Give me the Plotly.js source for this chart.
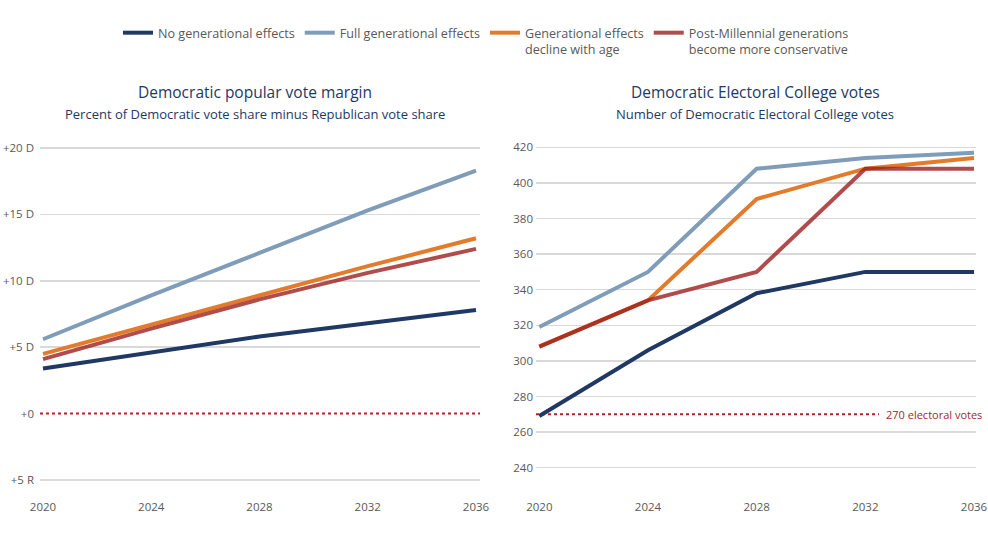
<!DOCTYPE html>
<html>
<head>
<meta charset="utf-8">
<script src="https://cdn.plot.ly/plotly-3.0.1.min.js"></script>
<style>html,body{margin:0;padding:0;background:#fff;}#chart{width:988px;height:538px;}</style>
</head>
<body>
<div id="chart"></div>
<script>
const years = [2020, 2024, 2028, 2032, 2036];
const seriesNames = ["No generational effects", "Full generational effects", "Generational effects<br>decline with age", "Post-Millennial generations<br>become more conservative"];
const popNo = [3.4, 4.6, 5.8, 6.8, 7.8];
const popFull = [5.6, 8.9, 12.1, 15.3, 18.3];
const popDecline = [4.5, 6.7, 8.9, 11.1, 13.2];
const popPostMil = [4.1, 6.4, 8.6, 10.6, 12.4];
const ecNo = [269, 306, 338, 350, 350];
const ecFull = [319, 350, 408, 414, 417];
const ecDecline = [308, 334, 391, 408, 414];
const ecPostMil = [308, 334, 350, 408, 408];
const popTickVals = [-5, 0, 5, 10, 15, 20];
const popTickText = ["+5 R", "+0", "+5 D", "+10 D", "+15 D", "+20 D"];
const ecTickVals = [240, 260, 280, 300, 320, 340, 360, 380, 400, 420];
const popThreshold = 0;
const ecThreshold = 270;
const ecThresholdLabel = "270 electoral votes";
const ecThresholdEndYear = 2032.5;

const colors = ["#1f3864", "#7f9cb8", "#e27b2b", "#9e1f1f"];
const opac = [1, 1, 1, 0.8];
const font = "'Open Sans', 'Noto Sans', sans-serif";
const xRangeL = [2019.889, 2036.148];
const xRangeR = [2019.878, 2036.074];

const traces = [];
// reference lines
traces.push({x: xRangeL, y: [popThreshold, popThreshold], xaxis: 'x', yaxis: 'y', mode: 'lines', line: {color: '#ffffff', width: 3}, showlegend: false, hoverinfo: 'skip'});
traces.push({x: xRangeL, y: [popThreshold, popThreshold], xaxis: 'x', yaxis: 'y', mode: 'lines', line: {color: '#b2242a', width: 2, dash: 'dot'}, showlegend: false, hoverinfo: 'skip'});
traces.push({x: [xRangeR[0], ecThresholdEndYear], y: [ecThreshold, ecThreshold], xaxis: 'x2', yaxis: 'y2', mode: 'lines', line: {color: '#b2242a', width: 2, dash: 'dot'}, showlegend: false, hoverinfo: 'skip'});

const popData = [popNo, popFull, popDecline, popPostMil];
const ecData = [ecNo, ecFull, ecDecline, ecPostMil];
for (let i = 0; i < 4; i++) {
  traces.push({x: years, y: popData[i], xaxis: 'x', yaxis: 'y', mode: 'lines', name: seriesNames[i], legendgroup: 'g' + i,
    line: {color: colors[i], width: 4}, opacity: opac[i], showlegend: true});
}
for (let i = 0; i < 4; i++) {
  traces.push({x: years, y: ecData[i], xaxis: 'x2', yaxis: 'y2', mode: 'lines', name: seriesNames[i], legendgroup: 'g' + i,
    line: {color: colors[i], width: 4}, opacity: opac[i], showlegend: false});
}

const tickFont = {family: font, size: 11.5, color: '#595959'};
const layout = {
  width: 988, height: 538, autosize: false,
  margin: {l: 0, r: 0, t: 0, b: 0},
  paper_bgcolor: '#ffffff', plot_bgcolor: '#ffffff',
  hovermode: false,
  font: {family: font, color: '#595959'},
  showlegend: true,
  legend: {orientation: 'h', x: 118/988, xanchor: 'left', y: 1 - 18/538, yanchor: 'top', valign: 'top',
    font: {family: font, size: 12.6, color: '#595959'}, itemwidth: 30, traceorder: 'normal', bgcolor: 'rgba(0,0,0,0)'},
  xaxis: {domain: [40/988, 480/988], range: xRangeL, tickvals: years, ticktext: years.map(String), showgrid: false, zeroline: false,
    showline: false, ticks: '', tickfont: tickFont, ticklabelstandoff: 14, automargin: false, anchor: 'y'},
  yaxis: {domain: [54/538, 394/538], range: [-5.3, 20.3], tickvals: popTickVals, ticktext: popTickText, showgrid: true,
    gridcolor: '#d9d9d9', gridwidth: 1.5, zeroline: false, showline: false, ticks: '', tickfont: tickFont, ticklabelstandoff: 5, automargin: false, anchor: 'x'},
  xaxis2: {domain: [536/988, 976/988], range: xRangeR, tickvals: years, ticktext: years.map(String), showgrid: false, zeroline: false,
    showline: false, ticks: '', tickfont: tickFont, ticklabelstandoff: 25, automargin: false, anchor: 'y2'},
  yaxis2: {domain: [65/538, 396/538], range: [237, 423], tickvals: ecTickVals, showgrid: true,
    gridcolor: '#d9d9d9', gridwidth: 1.5, zeroline: false, showline: false, ticks: '', tickfont: tickFont, ticklabelstandoff: 2, automargin: false, anchor: 'x2'},
  annotations: [
    {text: 'Democratic popular vote margin', xref: 'paper', yref: 'paper', x: 255/988, y: 1 - 92/538, xanchor: 'center', yanchor: 'middle', showarrow: false,
      font: {family: font, size: 15.5, color: '#1f3864'}},
    {text: 'Percent of Democratic vote share minus Republican vote share', xref: 'paper', yref: 'paper', x: 255/988, y: 1 - 114/538, xanchor: 'center', yanchor: 'middle', showarrow: false,
      font: {family: font, size: 13, color: '#1f3864'}},
    {text: 'Democratic Electoral College votes', xref: 'paper', yref: 'paper', x: 755/988, y: 1 - 92/538, xanchor: 'center', yanchor: 'middle', showarrow: false,
      font: {family: font, size: 15.5, color: '#1f3864'}},
    {text: 'Number of Democratic Electoral College votes', xref: 'paper', yref: 'paper', x: 755/988, y: 1 - 114/538, xanchor: 'center', yanchor: 'middle', showarrow: false,
      font: {family: font, size: 13, color: '#1f3864'}},
    {text: ecThresholdLabel, xref: 'paper', yref: 'y2', x: 884/988, y: ecThreshold, xanchor: 'left', yanchor: 'middle', showarrow: false,
      font: {family: font, size: 11, color: '#a3282c'}}
  ]
};
Plotly.newPlot('chart', traces, layout, {staticPlot: true, displayModeBar: false});
</script>
</body>
</html>
